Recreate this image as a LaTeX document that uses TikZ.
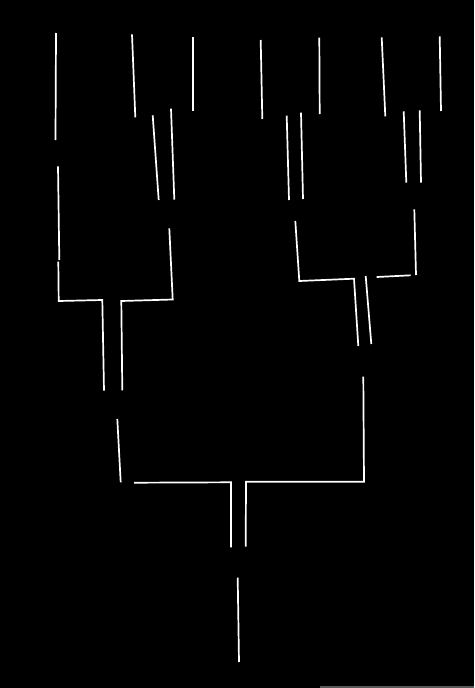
\documentclass[tikz,border=0pt]{standalone}
\begin{document}
\begin{tikzpicture}[x=1pt,y=-1pt,seg/.style={white,line width=1.7pt,line cap=butt,line join=miter}]
\fill[black] (0,0) rectangle (474,688);
\useasboundingbox (0,0) rectangle (474,688);
% top row
\draw[seg] (56,33) -- (55.5,140);
\draw[seg] (132,34.3) -- (135.3,117.3);
\draw[seg] (193.3,36.7) -- (193.3,110.7);
\draw[seg] (260.7,40) -- (262.3,119);
\draw[seg] (319.3,37.7) -- (319.7,114);
\draw[seg] (381.7,37.3) -- (385.3,116.3);
\draw[seg] (439.7,36.3) -- (441,111);
% second row
\draw[seg] (152.7,115.3) -- (158.7,200);
\draw[seg] (171,108.7) -- (174.3,199.7);
\draw[seg] (286.7,115.7) -- (289,200);
\draw[seg] (301,112.7) -- (303,199);
\draw[seg] (403.7,111.3) -- (406.3,182.7);
\draw[seg] (419.7,110.3) -- (421,182.7);
% left fork
\draw[seg] (58,166.3) -- (59.3,260);
\draw[seg] (58.3,261.7) -- (58.7,301) -- (102.3,300) -- (104,390.7);
\draw[seg] (169.3,228.3) -- (172.7,299.5) -- (121.3,301) -- (122.3,390.3);
% right fork
\draw[seg] (295.3,221) -- (299.3,281) -- (354,278.7) -- (358.3,346);
\draw[seg] (414.3,209.3) -- (416,275);
\draw[seg] (376.7,277) -- (410.7,275.3);
\draw[seg] (365.7,276) -- (371.3,344);
% bottom fork
\draw[seg] (117.3,419) -- (120.7,482.3);
\draw[seg] (134,482.7) -- (231,482.3) -- (231,547.3);
\draw[seg] (363.3,376.7) -- (364,481.7) -- (246,481.7) -- (245.7,546.7);
\draw[seg] (237.7,577.7) -- (239,662);
% bottom gray bar
\fill[gray!70!black] (320,685.8) rectangle (474,688);
\end{tikzpicture}
\end{document}
